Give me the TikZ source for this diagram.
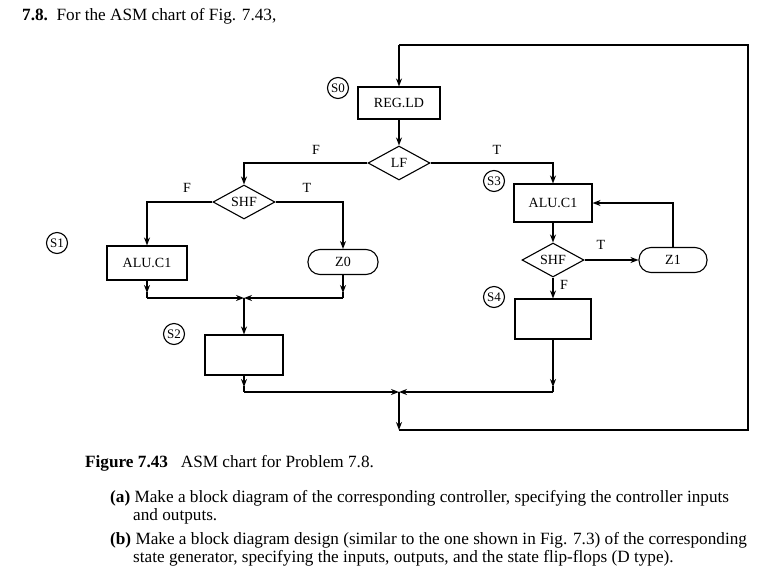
\documentclass[tikz,border=0pt]{standalone}
\usepackage{fontspec}
\setmainfont{Liberation Serif}
\usetikzlibrary{shapes.geometric,arrows.meta}
\begin{document}
\begin{tikzpicture}[x=1pt,y=-1pt,
  ln/.style={line width=1.4pt},
  ar/.style={ln,-{Stealth[length=8pt,width=6pt]}},
  box/.style={draw,line width=1.1pt,minimum width=80pt,minimum height=34pt,font=\fontsize{14}{16}\selectfont},
  dia/.style={draw,line width=1.1pt,diamond,aspect=1.8,minimum width=62pt,minimum height=34pt,inner sep=0pt,font=\fontsize{14}{16}\selectfont},
  cond/.style={draw,line width=1.1pt,rounded corners=12pt,minimum width=70pt,minimum height=25pt,font=\fontsize{14}{16}\selectfont},
  st/.style={draw,circle,line width=1.1pt,inner sep=0pt,minimum size=21pt,font=\fontsize{13}{14}\selectfont},
  lb/.style={font=\fontsize{14}{16}\selectfont},
  tx/.style={anchor=base west,inner sep=0pt,font=\fontsize{17.2}{19}\selectfont}]
\useasboundingbox (0,0) rectangle (771,587);
% states
\node[box,minimum width=82pt,minimum height=32pt] (s0) at (399,103) {REG.LD};
\node[st] (c0) at (338,88) {S0};
\node[dia] (lf) at (399,163) {LF};
\node[dia] (shf1) at (244,202) {SHF};
\node[box] (alu1) at (147,263) {ALU.C1};
\node[st] (c1) at (57,243) {S1};
\node[cond] (z0) at (343,262) {Z0};
\coordinate (m1) at (244,298);
\node[box,minimum width=78pt,minimum height=40pt] (s2) at (244,355) {};
\node[st] (c2) at (174,334) {S2};
\node[box,minimum width=78pt,minimum height=38pt] (alu3) at (553,203) {ALU.C1};
\node[st] (c3) at (494,181) {S3};
\node[dia] (shf3) at (553,260) {SHF};
\node[cond,minimum width=68pt] (z1) at (673,260) {Z1};
\node[box,minimum width=76pt,minimum height=40pt] (s4) at (553,319) {};
\node[st] (c4) at (494,297) {S4};
\coordinate (m2) at (399,392);
\coordinate (bot) at (399,430);
% connectors
\draw[ar] (399,45) -- (s0.north);
\draw[ln] (bot) -- (748,430) -- (748,45) -- (399,45);
\draw[ar] (s0.south) -- (lf.north);
\draw[ar] (lf.west) -- (244,163) -- (shf1.north);
\node[lb] at (316,150) {F};
\node[lb] at (497,150) {T};
\draw[ar] (lf.east) -- (553,163) -- (alu3.north);
\draw[ar] (shf1.west) -- (147,202) -- (alu1.north);
\draw[ar] (shf1.east) -- (343,202) -- (z0.north);
\node[lb] at (187,188) {F};
\node[lb] at (307,188) {T};
\draw[ar] (alu1.south) -- (147,293);
\draw[ln] (147,292) -- (147,298);
\draw[ar] (147,298) -- (m1);
\draw[ar] (z0.south) -- (343,293);
\draw[ln] (343,292) -- (343,298);
\draw[ar] (343,298) -- (m1);
\draw[ar] (m1) -- (s2.north);
\draw[ar] (s2.south) -- (244,387);
\draw[ln] (244,386) -- (244,392);
\draw[ar] (244,392) -- (m2);
\draw[ar] (s4.south) -- (553,387);
\draw[ln] (553,386) -- (553,392);
\draw[ar] (553,392) -- (m2);
\draw[ar] (m2) -- (bot);
\draw[ar] (alu3.south) -- (shf3.north);
\draw[ar] (shf3.east) -- (z1.west);
\node[lb] at (601,245) {T};
\draw[ar] (z1.north) -- (673,203) -- (alu3.east);
\draw[ar] (shf3.south) -- (s4.north);
\node[lb] at (564,285) {F};
% texts
\node[tx] at (22,20) {\textbf{7.8.}\ \ For the ASM chart of Fig. 7.43,};
\node[tx] at (85,467) {\textbf{Figure 7.43}\ \ \ ASM chart for Problem 7.8.};
\node[tx] at (110,502) {\textbf{(a)}\ Make a block diagram of the corresponding controller, specifying the controller inputs};
\node[tx] at (133,520) {and outputs.};
\node[tx] at (110,544) {\textbf{(b)}\ Make a block diagram design (similar to the one shown in Fig. 7.3) of the corresponding};
\node[tx] at (133,562) {state generator, specifying the inputs, outputs, and the state flip-flops (D type).};
\end{tikzpicture}
\end{document}
